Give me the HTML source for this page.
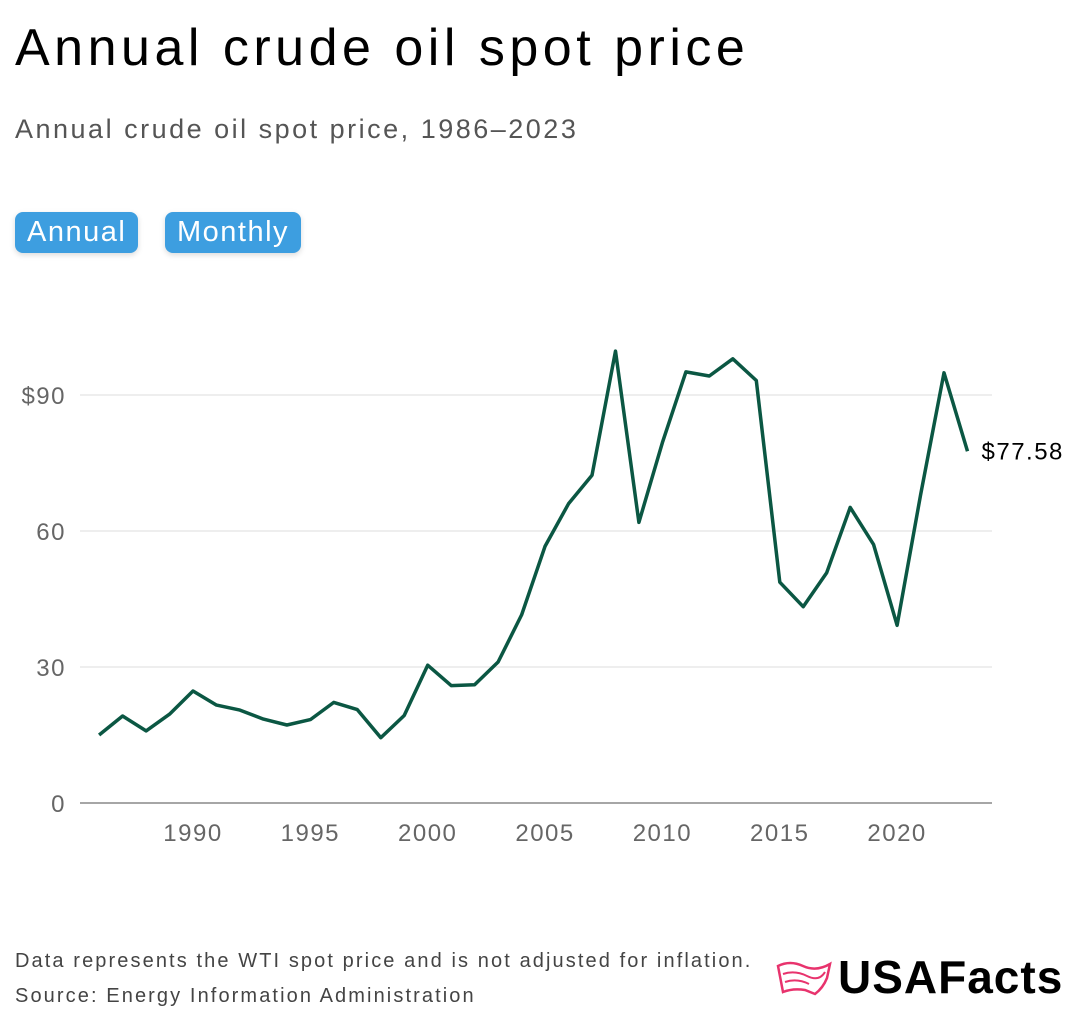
<!DOCTYPE html>
<html><head><meta charset="utf-8"><style>
body{margin:0;width:1080px;height:1030px;background:#fff;font-family:"Liberation Sans",sans-serif;position:relative;overflow:hidden}
.t{position:absolute;margin:0;white-space:nowrap}
.btn{position:absolute;top:212px;height:41px;background:#3d9ee0;color:#fff;font-size:29px;border-radius:8px;line-height:41px;padding:0 12px;letter-spacing:1.5px;box-shadow:0 2px 6px rgba(0,0,0,.15)}
</style></head><body>
<h1 class="t" style="left:15px;top:18px;font-size:52px;font-weight:normal;color:#000;letter-spacing:4.5px">Annual crude oil spot price</h1>
<div class="t" style="left:15px;top:114px;font-size:27px;color:#555;letter-spacing:2.5px">Annual crude oil spot price, 1986–2023</div>
<div class="btn" style="left:15px">Annual</div>
<div class="btn" style="left:165px">Monthly</div>
<svg id="chart" width="1080" height="1030" style="position:absolute;left:0;top:0"></svg>
<div class="t" style="left:15px;top:950px;font-size:20px;color:#444;letter-spacing:2.1px">Data represents the WTI spot price and is not adjusted for inflation.</div>
<div class="t" style="left:15px;top:985px;font-size:20px;color:#444;letter-spacing:2.1px">Source: Energy Information Administration</div>
<svg width="60" height="40" style="position:absolute;left:775px;top:958px">
<path d="M3 8 Q15 2 28 8 T55 6 L52 20 Q48 30 40 36 L30 32 Q18 30 8 34 Z" fill="none" stroke="#e8336d" stroke-width="2.5"/>
<path d="M8 16 Q20 12 32 18 T50 14 M10 24 Q22 20 34 26" fill="none" stroke="#e8336d" stroke-width="2"/>
</svg>
<div class="t" style="left:838px;top:950px;font-size:46px;font-weight:bold;color:#000;letter-spacing:1px">USAFacts</div>
<script>
const years=[1986,1987,1988,1989,1990,1991,1992,1993,1994,1995,1996,1997,1998,1999,2000,2001,2002,2003,2004,2005,2006,2007,2008,2009,2010,2011,2012,2013,2014,2015,2016,2017,2018,2019,2020,2021,2022,2023];
const prices=[15.0,19.2,15.9,19.6,24.7,21.6,20.5,18.5,17.2,18.4,22.2,20.6,14.4,19.3,30.4,25.9,26.1,31.1,41.5,56.6,66.0,72.3,99.7,61.9,79.5,95.1,94.2,98.0,93.2,48.7,43.3,50.8,65.2,57.0,39.2,68.0,94.9,77.58];
const yTicks=[0,30,60,90];
const yTickLabels=["0","30","60","$90"];
const xTicks=[1990,1995,2000,2005,2010,2015,2020];
const svg=document.getElementById('chart');
const NS='http://www.w3.org/2000/svg';
const x=v=>193+(v-1990)*23.47;
const y=v=>803-v*4.533;
function mk(tag,attrs){const e=document.createElementNS(NS,tag);for(const k in attrs)e.setAttribute(k,attrs[k]);svg.appendChild(e);return e;}
yTicks.forEach((t,i)=>{
 const g=mk('line',{x1:80,x2:992,y1:y(t),y2:y(t),stroke:t===0?'#888':'#ddd','stroke-width':t===0?1.5:1});
 
 
 const l=mk('text',{x:66,y:y(t)+9,'text-anchor':'end','font-size':24,fill:'#666','letter-spacing':1.5,'font-family':'Liberation Sans, sans-serif'});
 l.textContent=yTickLabels[i];
 
 
});
xTicks.forEach(t=>{
 const l=mk('text',{x:x(t),y:841,'text-anchor':'middle','font-size':24,fill:'#666','letter-spacing':1.5,'font-family':'Liberation Sans, sans-serif'});
 l.textContent=t;
 
 
});
const p=mk('path',{d:prices.map((v,i)=>(i?'L':'M')+x(years[i]).toFixed(1)+' '+y(v).toFixed(1)).join(''),fill:'none',stroke:'#0b5743','stroke-width':3.5,'stroke-linejoin':'round'});


const last=prices[prices.length-1];
const lb=mk('text',{x:x(years[years.length-1])+14,y:y(last)+8,'font-size':24,fill:'#000','letter-spacing':1.5,'font-family':'Liberation Sans, sans-serif'});
lb.textContent='$'+last.toFixed(2);


</script>
</body></html>
